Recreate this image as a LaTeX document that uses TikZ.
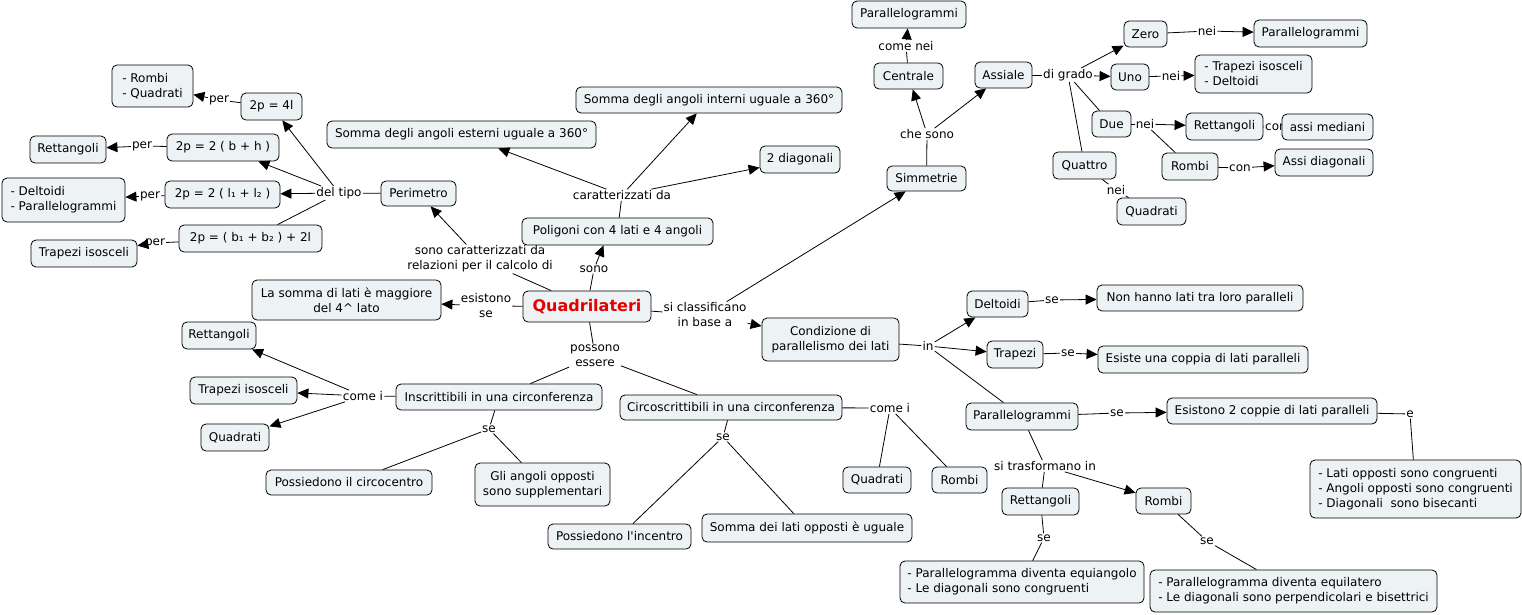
\documentclass[tikz,border=0pt]{standalone}
\usepackage{fontspec}
\setmainfont{DejaVu Sans}
\usetikzlibrary{arrows.meta,calc}
\definecolor{boxfill}{RGB}{237,243,245}
\definecolor{qred}{RGB}{232,0,0}
\newcommand\fs{\fontsize{12}{15}\selectfont}
\begin{document}
\begin{tikzpicture}[x=1pt,y=-1pt,
 box/.style={draw=black, line width=0.8pt, rounded corners=5pt, fill=boxfill, inner xsep=4pt, inner ysep=2pt, font=\fs, align=center},
 lbl/.style={font=\fs, inner sep=1pt, align=center},
 ln/.style={draw=black, line width=0.8pt},
 arr/.style={ln, -{Triangle[length=11pt,width=10pt]}}]
\useasboundingbox (0,0) rectangle (1522,614);

% ---------- left cluster ----------
\node[box, minimum width=81pt, minimum height=42pt, align=left] (rq) at (152.5,86) {- Rombi\\- Quadrati};
\node[box, minimum width=61pt, minimum height=27pt] (f4l) at (271.5,106.5) {2p = 4l};
\node[box, minimum width=76pt, minimum height=27pt] (rett1) at (68,149.5) {Rettangoli};
\node[box, minimum width=112pt, minimum height=27pt] (f2bh) at (223,147.5) {2p = 2 ( b + h )};
\node[box, minimum width=123pt, minimum height=44pt, align=left] (delt1) at (63.5,200) {- Deltoidi\\- Parallelogrammi};
\node[box, minimum width=115pt, minimum height=27pt] (f2l) at (222.5,194.5) {2p = 2 ( l₁ + l₂ )};
\node[box, minimum width=143pt, minimum height=27pt] (f2b) at (250.5,238.5) {2p = ( b₁ + b₂ ) + 2l};
\node[box, minimum width=106pt, minimum height=27pt] (trap1) at (84,253.5) {Trapezi isosceli};
\node[lbl] (deltipo) at (339,193) {del tipo};
\node[box, minimum width=75pt, minimum height=25pt] (perim) at (418.5,193.5) {Perimetro};
\node[lbl] (per1) at (219,100) {per};
\node[lbl] (per2) at (142,146) {per};
\node[lbl] (per3) at (150,196) {per};
\node[lbl] (per4) at (155,243) {per};

% ---------- centre ----------
\node[box, minimum width=269pt, minimum height=27pt] (sest) at (461.5,134.5) {Somma degli angoli esterni uguale a 360°};
\node[box, minimum width=266pt, minimum height=26pt] (sint) at (709,100) {Somma degli angoli interni uguale a 360°};
\node[box, minimum width=80pt, minimum height=27pt] (diag2) at (800,159.5) {2 diagonali};
\node[lbl] (caratt) at (622,195) {caratterizzati da};
\node[box, minimum width=191pt, minimum height=27pt] (polig) at (617.5,231.5) {Poligoni con 4 lati e 4 angoli};
\node[lbl] (sono) at (594,269) {sono};
\node[lbl] (sonocar) at (480,259) {sono caratterizzati da\\relazioni per il calcolo di};
\node[box, minimum width=128pt, minimum height=31pt, font=\fontsize{16}{19}\selectfont\bfseries, text=qred] (quad) at (587,306.5) {Quadrilateri};
\node[box, minimum width=189pt, minimum height=40pt] (lsum) at (346.5,300) {La somma di lati è maggiore\\del 4\textasciicircum{} lato};
\node[lbl] (esist) at (486,306) {esistono\\se};
\node[lbl] (sicl) at (705,315) {si classificano\\in base a};
\node[lbl] (poss) at (595,356) {possono\\essere};

% ---------- symmetries ----------
\node[box, minimum width=114pt, minimum height=27pt] (par1) at (909,14.5) {Parallelogrammi};
\node[lbl] (comenei) at (906,46) {come nei};
\node[box, minimum width=69pt, minimum height=26pt] (centr) at (908.5,76) {Centrale};
\node[box, minimum width=57pt, minimum height=26pt] (assiale) at (1003.5,75) {Assiale};
\node[lbl] (chesono) at (927,134) {che sono};
\node[box, minimum width=79pt, minimum height=25pt] (simm) at (926.5,178.5) {Simmetrie};
\node[lbl] (digrado) at (1068,75) {di grado};
\node[box, minimum width=43pt, minimum height=26pt] (zero) at (1145.5,34) {Zero};
\node[lbl] (nei1) at (1207,31) {nei};
\node[box, minimum width=113pt, minimum height=27pt] (par2) at (1310.5,33.5) {Parallelogrammi};
\node[box, minimum width=38pt, minimum height=26pt] (uno) at (1130,77) {Uno};
\node[lbl] (nei2) at (1171,76) {nei};
\node[box, minimum width=117pt, minimum height=38pt, align=left] (trapdel) at (1253.5,74) {- Trapezi isosceli\\- Deltoidi};
\node[box, minimum width=39pt, minimum height=26pt] (due) at (1111.5,124) {Due};
\node[lbl] (nei3) at (1145,124) {nei};
\node[box, minimum width=77pt, minimum height=27pt] (rett2) at (1224.5,126.5) {Rettangoli};
\node[lbl] (con1) at (1276,127) {con};
\node[box, minimum width=91pt, minimum height=26pt] (assimed) at (1327.5,127) {assi mediani};
\node[box, minimum width=56pt, minimum height=27pt] (rombi2) at (1190,166.5) {Rombi};
\node[lbl] (con2) at (1240,168) {con};
\node[box, minimum width=98pt, minimum height=27pt] (assidiag) at (1324,162.5) {Assi diagonali};
\node[box, minimum width=63pt, minimum height=27pt] (quattro) at (1084.5,165.5) {Quattro};
\node[lbl] (nei4) at (1116,190) {nei};
\node[box, minimum width=69pt, minimum height=27pt] (quadr2) at (1151.5,211.5) {Quadrati};

% ---------- parallelism ----------
\node[box, minimum width=137pt, minimum height=43pt] (cond) at (830.5,339.5) {Condizione di\\parallelismo dei lati};
\node[lbl] (in) at (928,346) {in};
\node[box, minimum width=61pt, minimum height=26pt] (delt) at (997.5,304) {Deltoidi};
\node[lbl] (se1) at (1052,300) {se};
\node[box, minimum width=206pt, minimum height=26pt] (nonh) at (1200,298) {Non hanno lati tra loro paralleli};
\node[box, minimum width=56pt, minimum height=27pt] (trapz) at (1015,354.5) {Trapezi};
\node[lbl] (se2) at (1068,353) {se};
\node[box, minimum width=210pt, minimum height=27pt] (esiste) at (1203,359.5) {Esiste una coppia di lati paralleli};
\node[box, minimum width=112pt, minimum height=27pt] (par3) at (1022,416.5) {Parallelogrammi};
\node[lbl] (se3) at (1117,413) {se};
\node[box, minimum width=210pt, minimum height=26pt] (esist2) at (1272,411) {Esistono 2 coppie di lati paralleli};
\node[lbl] (e) at (1410,414) {e};
\node[box, minimum width=211pt, minimum height=58pt, align=left] (lati) at (1415.5,489) {- Lati opposti sono congruenti\\- Angoli opposti sono congruenti\\- Diagonali~ sono bisecanti};
\node[lbl] (sitra) at (1045,466) {si trasformano in};
\node[box, minimum width=77pt, minimum height=27pt] (rett3) at (1040.5,501.5) {Rettangoli};
\node[box, minimum width=55pt, minimum height=26pt] (rombi3) at (1163.5,501) {Rombi};
\node[lbl] (se4) at (1044,538) {se};
\node[lbl] (se5) at (1207,541) {se};
\node[box, minimum width=244pt, minimum height=42pt, align=left] (pdeq) at (1022,582) {- Parallelogramma diventa equiangolo\\- Le diagonali sono congruenti};
\node[box, minimum width=287pt, minimum height=42pt, align=left] (pdeqlat) at (1293.5,591) {- Parallelogramma diventa equilatero\\- Le diagonali sono perpendicolari e bisettrici};

% ---------- inscribed / circumscribed ----------
\node[box, minimum width=74pt, minimum height=27pt] (rett4) at (219,335.5) {Rettangoli};
\node[box, minimum width=107pt, minimum height=27pt] (trap4) at (243.5,390.5) {Trapezi isosceli};
\node[box, minimum width=68pt, minimum height=27pt] (quadr4) at (235,437.5) {Quadrati};
\node[lbl] (comei1) at (363,396) {come i};
\node[box, minimum width=206pt, minimum height=26pt] (inscr) at (499,397) {Inscrittibili in una circonferenza};
\node[lbl] (se6) at (489,429) {se};
\node[box, minimum width=166pt, minimum height=25pt] (posscirc) at (349,482.5) {Possiedono il circocentro};
\node[box, minimum width=135pt, minimum height=43pt] (gliang) at (542.5,484.5) {Gli angoli opposti\\sono supplementari};
\node[box, minimum width=222pt, minimum height=25pt] (circo) at (731,407.5) {Circoscrittibili in una circonferenza};
\node[lbl] (comei2) at (890,408) {come i};
\node[lbl] (se7) at (723,437) {se};
\node[box, minimum width=68pt, minimum height=26pt] (quadr5) at (877,480) {Quadrati};
\node[box, minimum width=55pt, minimum height=26pt] (rombi5) at (959.5,480) {Rombi};
\node[box, minimum width=143pt, minimum height=25pt] (possinc) at (619.5,536.5) {Possiedono l\textquotesingle incentro};
\node[box, minimum width=210pt, minimum height=28pt] (sommal) at (807,528) {Somma dei lati opposti è uguale};

% ---------- connectors ----------
% left
\draw[ln] (perim) -- (deltipo);
\draw[arr] (deltipo) -- (f4l);
\draw[arr] (deltipo) -- (f2bh);
\draw[arr] (deltipo) -- (f2l);
\draw[ln] (deltipo) -- (f2b);
\draw[ln] (f4l) -- (per1); \draw[arr] (per1) -- (rq);
\draw[ln] (f2bh) -- (per2); \draw[arr] (per2) -- (rett1);
\draw[ln] (f2l) -- (per3); \draw[arr] (per3) -- (delt1);
\draw[ln] (f2b) -- (per4); \draw[arr] (per4) -- (trap1);
% centre
\draw[ln] (quad) -- (sono); \draw[arr] (sono) -- ([xshift=-14pt]polig.south);
\draw[ln] (polig) -- (caratt);
\draw[arr] (caratt) -- (sest);
\draw[arr] (caratt) -- (sint);
\draw[arr] (caratt) -- (diag2);
\draw[ln] (quad) -- (sonocar); \draw[arr] (sonocar) -- (perim);
\draw[ln] (quad) -- (esist); \draw[arr] (esist) -- (lsum);
\draw[ln] (quad) -- (sicl);
\draw[arr] (sicl) -- (cond);
\draw[arr] (sicl) -- (simm);
\draw[ln] (quad) -- (poss);
\draw[ln] (poss) -- (inscr);
\draw[ln] (poss) -- (circo);
% symmetries
\draw[ln] (simm) -- (chesono);
\draw[arr] (chesono) -- (centr);
\draw[arr] (chesono) -- (assiale);
\draw[ln] (centr) -- (comenei); \draw[arr] (comenei) -- (par1);
\draw[ln] (assiale) -- (digrado);
\draw[arr] (digrado) -- (zero);
\draw[arr] (digrado) -- (uno);
\draw[ln] (digrado) -- ([xshift=8pt]due.north west);
\draw[ln] (digrado) -- (quattro);
\draw[ln] (zero) -- (nei1); \draw[arr] (nei1) -- (par2);
\draw[ln] (uno) -- (nei2); \draw[arr] (nei2) -- (trapdel);
\draw[ln] (due) -- (nei3);
\draw[arr] (nei3) -- (rett2);
\draw[ln] (nei3) -- (rombi2);
\draw[ln] (rett2) -- (con1);
\draw[ln] (rombi2) -- (con2); \draw[arr] (con2) -- (assidiag);
\draw[ln] (quattro) -- (nei4); \draw[ln] (nei4) -- (quadr2);
% parallelism
\draw[ln] (cond) -- (in);
\draw[arr] (in) -- (delt);
\draw[arr] (in) -- (trapz);
\draw[ln] (in) -- (par3);
\draw[ln] (delt) -- (se1); \draw[arr] (se1) -- (nonh);
\draw[ln] (trapz) -- (se2); \draw[arr] (se2) -- (esiste);
\draw[ln] (par3) -- (se3); \draw[arr] (se3) -- (esist2);
\draw[ln] (esist2) -- (e); \draw[ln] (e) -- (lati);
\draw[ln] (par3) -- (sitra);
\draw[ln] (sitra) -- (rett3);
\draw[arr] (sitra) -- (rombi3);
\draw[ln] (rett3) -- (se4); \draw[ln] (se4) -- (pdeq);
\draw[ln] (rombi3) -- (se5); \draw[ln] (se5) -- (pdeqlat);
% inscribed / circumscribed
\draw[ln] (inscr) -- (comei1);
\draw[arr] (comei1) -- (rett4);
\draw[arr] (comei1) -- (trap4);
\draw[arr] (comei1) -- (quadr4);
\draw[ln] (inscr) -- (se6);
\draw[ln] (se6) -- (posscirc);
\draw[ln] (se6) -- (gliang);
\draw[ln] (circo) -- (comei2);
\draw[ln] (comei2) -- (quadr5);
\draw[ln] (comei2) -- (rombi5);
\draw[ln] (circo) -- (se7);
\draw[ln] (se7) -- (possinc);
\draw[ln] (se7) -- (sommal);
\end{tikzpicture}
\end{document}
